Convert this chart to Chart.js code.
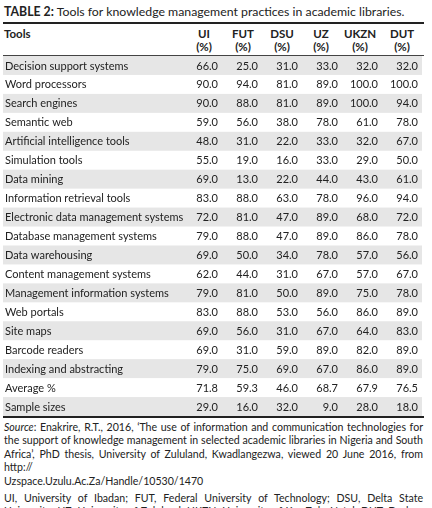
<!DOCTYPE html>
<html><head><meta charset="utf-8">
<script src="https://cdn.jsdelivr.net/npm/chart.js@4"></script>
<style>
body{margin:0;width:432px;height:508px;background:#fff;font-family:Lato,"Open Sans",sans-serif;color:#222;position:relative;overflow:hidden}
#title{position:absolute;left:4px;top:4px;font-size:12.3px}
#title b{font-weight:700}
.thick{position:absolute;left:3px;width:421px;height:2px;background:#222}
.thin{position:absolute;left:3px;width:421px;height:1px;background:#444}
#hdr{position:absolute;top:27px;left:0;width:432px;height:30px;font-size:11.5px;font-weight:700}
#hdr span{position:absolute;text-align:center;line-height:13px;width:40px}
#wrap{position:absolute;left:0;top:56px;width:432px;height:360px}
#foot{position:absolute;left:4px;top:421px;width:419px;font-size:10.6px;line-height:13.4px;text-align:justify}
#foot p{margin:0 0 4px 0}
</style></head><body>
<div id="title"><b>TABLE 2:</b> Tools for knowledge management practices in academic libraries.</div>
<div class="thick" style="top:22px"></div>
<div id="hdr"></div>
<div class="thin" style="top:55px"></div>
<div id="wrap"><canvas id="c"></canvas></div>
<div class="thick" style="top:416px"></div>
<div id="foot">
<p><i>Source</i>: Enakrire, R.T., 2016, ‘The use of information and communication technologies for the support of knowledge management in selected academic libraries in Nigeria and South Africa’, PhD thesis, University of Zululand, Kwadlangezwa, viewed 20 June 2016, from http://<br>Uzspace.Uzulu.Ac.Za/Handle/10530/1470</p>
<p>UI, University of Ibadan; FUT, Federal University of Technology; DSU, Delta State University; UZ, University of Zululand; UKZN, University of KwaZulu-Natal; DUT, Durban University of Technology</p>
</div>
<script>
const tools=["Decision support systems","Word processors","Search engines","Semantic web","Artificial intelligence tools","Simulation tools","Data mining","Information retrieval tools","Electronic data management systems","Database management systems","Data warehousing","Content management systems","Management information systems","Web portals","Site maps","Barcode readers","Indexing and abstracting","Average %","Sample sizes"];
const columns=["UI","FUT","DSU","UZ","UKZN","DUT"];
const UI=[66.0,90.0,90.0,59.0,48.0,55.0,69.0,83.0,72.0,79.0,69.0,62.0,79.0,83.0,69.0,69.0,79.0,71.8,29.0];
const FUT=[25.0,94.0,88.0,56.0,31.0,19.0,13.0,88.0,81.0,88.0,50.0,44.0,81.0,88.0,56.0,31.0,75.0,59.3,16.0];
const DSU=[31.0,81.0,81.0,38.0,22.0,16.0,22.0,63.0,47.0,47.0,34.0,31.0,50.0,53.0,31.0,59.0,69.0,46.0,32.0];
const UZ=[33.0,89.0,89.0,78.0,33.0,33.0,44.0,78.0,89.0,89.0,78.0,67.0,89.0,56.0,67.0,89.0,67.0,68.7,9.0];
const UKZN=[32.0,100.0,100.0,61.0,32.0,29.0,43.0,96.0,68.0,86.0,57.0,57.0,75.0,86.0,64.0,82.0,86.0,67.9,28.0];
const DUT=[32.0,100.0,94.0,78.0,67.0,50.0,61.0,94.0,72.0,78.0,56.0,67.0,78.0,89.0,83.0,89.0,89.0,76.5,18.0];
const series=[UI,FUT,DSU,UZ,UKZN,DUT];

const hdr=document.getElementById('hdr');
let h='<span style="left:4px;text-align:left">Tools</span>';
const hc=[204,243,282,321,360,402];
columns.forEach((c,i)=>{h+=`<span style="left:${hc[i]-20}px">${c}<br>(%)</span>`;});
hdr.innerHTML=h;

const FONT='11px Lato, "Open Sans", sans-serif';
const tablePlugin={id:'table',
 beforeDatasetsDraw(chart){
  const {ctx,scales:{y}}=chart;
  const band=y.getPixelForValue(1)-y.getPixelForValue(0);
  ctx.save();ctx.fillStyle='#e6e6e6';
  tools.forEach((t,i)=>{if(i%2===0){const py=y.getPixelForValue(i);ctx.fillRect(3,py-band/2,419,band);}});
  ctx.fillStyle='#222';ctx.font=FONT;ctx.textBaseline='middle';ctx.textAlign='left';
  tools.forEach((t,i)=>ctx.fillText(t,5,y.getPixelForValue(i)+0.5));
  ctx.restore();
 },
 afterDatasetsDraw(chart){
  const {ctx}=chart;ctx.save();ctx.fillStyle='#222';ctx.font=FONT;ctx.textBaseline='middle';ctx.textAlign='right';
  chart.data.datasets.forEach((ds,di)=>{chart.getDatasetMeta(di).data.forEach((el,j)=>{ctx.fillText(ds.raw[j].toFixed(1),el.x,el.y+0.5);});});
  ctx.restore();
 }};
new Chart(document.getElementById('c'),{
 type:'scatter',
 data:{datasets:series.map((s,i)=>({label:columns[i],raw:s,data:s.map((v,j)=>({x:i+1,y:tools[j]})),pointRadius:0,pointHoverRadius:0}))},
 options:{responsive:true,maintainAspectRatio:false,animation:false,events:[],
  layout:{padding:0},
  plugins:{legend:{display:false},tooltip:{enabled:false}},
  scales:{x:{type:'linear',min:-4.45,max:6.35,display:false},
          y:{type:'category',labels:tools,offset:true,display:false}}},
 plugins:[tablePlugin]});
</script>
</body></html>
